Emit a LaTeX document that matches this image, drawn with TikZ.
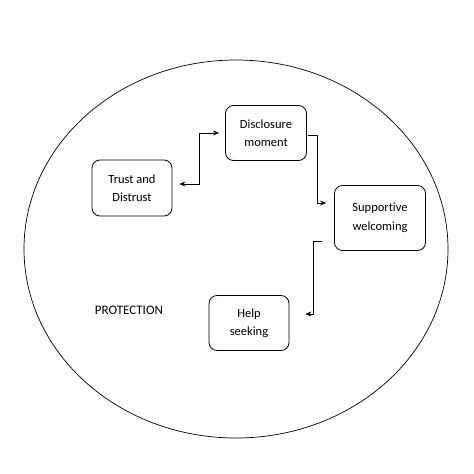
\documentclass[tikz,border=0pt]{standalone}
\usepackage{fontspec}
\setmainfont[Ligatures=NoCommon]{Carlito}
\usetikzlibrary{arrows.meta}
\begin{document}
\begin{tikzpicture}[x=1pt,y=-1pt,>={Stealth[length=6pt,width=5pt]}, font=\fontsize{12.5}{18.5}\selectfont, line join=round,
	stage/.style={draw, rounded corners=8pt, line width=0.8pt, align=center, inner sep=0pt},
	link/.style={line width=0.8pt}]
	\useasboundingbox (0,0) rectangle (474,474);
	\draw[line width=0.7pt] (236,249) ellipse [x radius=212, y radius=189];
	\node[stage, minimum width=80, minimum height=56] (trust) at (132,188) {Trust and\\Distrust};
	\node[stage, minimum width=81, minimum height=55] (disc) at (266,133) {Disclosure\\moment};
	\node[stage, minimum width=91, minimum height=65] (supp) at (380,218) {Supportive\\welcoming};
	\node[stage, minimum width=80, minimum height=55] (help) at (249,323) {Help\\seeking};
	\node[font=\fontsize{13}{15}\selectfont] (prot) at (129,310) {PROTECTION};
	\draw[link,<->] ([xshift=7,yshift=4]trust.east) -- ++(20,0) |- ([xshift=-6]disc.west);
	\draw[link,->] ([xshift=1,yshift=-2]disc.east) -- ++(9,0) |- ([xshift=-8,yshift=15]supp.west);
	\draw[link,->] ([xshift=-12,yshift=-23]supp.west) -- ++(-9,0) |- ([xshift=16,yshift=9]help.east);
\end{tikzpicture}
\end{document}
